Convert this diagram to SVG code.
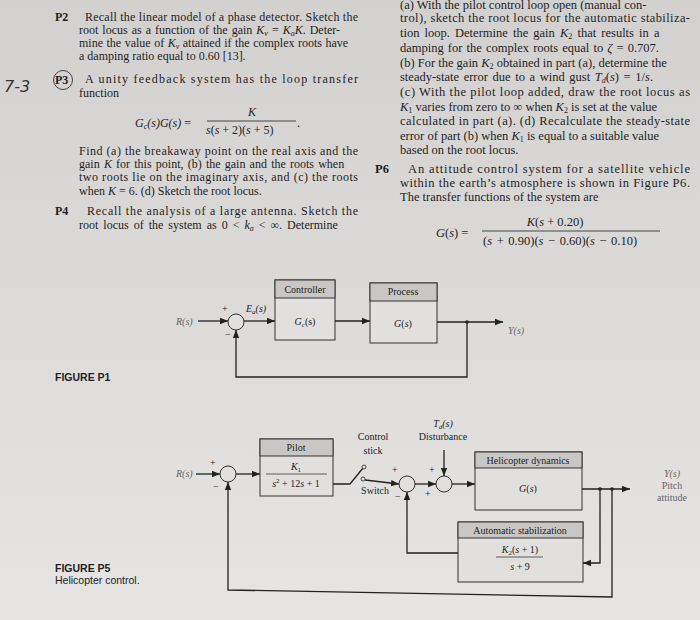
<svg xmlns="http://www.w3.org/2000/svg" width="700" height="620" viewBox="0 0 700 620">
<defs>
<linearGradient id="bg" x1="0" y1="0" x2="0" y2="1"><stop offset="0" stop-color="#d3d1d0"/><stop offset="0.5" stop-color="#dddbda"/><stop offset="1" stop-color="#e6e5e4"/></linearGradient>
<marker id="ar" viewBox="0 0 10 10" refX="10" refY="5" markerWidth="8" markerHeight="8" orient="auto-start-reverse" markerUnits="userSpaceOnUse"><path d="M0,1 L10,5 L0,9 z" fill="#222"/></marker>
</defs>
<style>
.t{font-family:"Liberation Serif",serif;font-size:12px;fill:#1e1e1e}
.r{font-size:12.5px}
.b{font-weight:bold}
.i{font-style:italic}
.s{font-family:"Liberation Serif",serif;font-size:10px;fill:#222}
.lt{fill:#666}
.fig{font-family:"Liberation Sans",sans-serif;font-size:10.5px;fill:#222}
.box{fill:#e2e0df;stroke:#333;stroke-width:1}
.hd{fill:#c9c7c5;stroke:#333;stroke-width:1}
.sum{fill:#e2e0df;stroke:#333;stroke-width:1}
.w{fill:none;stroke:#222;stroke-width:1.3}
.wa{fill:none;stroke:#222;stroke-width:1.3;marker-end:url(#ar)}
</style>
<rect width="700" height="620" fill="url(#bg)"/>

<g id="left-text">
<text class="t b" x="55" y="21">P2</text>
<text class="t" x="85" y="21" textLength="273" lengthAdjust="spacing">Recall the linear model of a phase detector. Sketch the</text>
<text class="t" x="79" y="34" word-spacing="1">root locus as a function of the gain <tspan class="i">K</tspan><tspan font-size="8" class="i" dy="2">v</tspan><tspan dy="-2"> = </tspan><tspan class="i">K</tspan><tspan font-size="8" class="i" dy="2">a</tspan><tspan class="i" dy="-2">K</tspan>. Deter-</text>
<text class="t" x="79" y="47" word-spacing="0.5">mine the value of <tspan class="i">K</tspan><tspan font-size="8" class="i" dy="2">v</tspan><tspan dy="-2"> attained if the complex roots have</tspan></text>
<text class="t" x="79" y="60">a damping ratio equal to 0.60 [13].</text>
<text x="4" y="92" font-family="DejaVu Sans, sans-serif" font-size="16" font-style="italic" fill="#333">7-3</text>
<circle cx="63" cy="80" r="9.5" fill="none" stroke="#444" stroke-width="1"/>
<text class="t b" x="55" y="84">P3</text>
<text class="t" x="85" y="83" textLength="273" lengthAdjust="spacing">A unity feedback system has the loop transfer</text>
<text class="t" x="79" y="97">function</text>
<text class="t" x="135" y="127"><tspan class="i">G</tspan><tspan font-size="8" class="i" dy="2">c</tspan><tspan dy="-2" class="i">(s)G(s)</tspan> =</text>
<text class="t i" x="252" y="116" text-anchor="middle">K</text>
<line x1="207" y1="121" x2="296" y2="121" stroke="#222" stroke-width="0.8"/>
<text class="t" x="206" y="134" font-size="11"><tspan class="i">s</tspan>(<tspan class="i">s</tspan> + 2)(<tspan class="i">s</tspan> + 5)</text>
<text class="t" x="297" y="127">.</text>
<text class="t" x="79" y="155" textLength="279" lengthAdjust="spacing">Find (a) the breakaway point on the real axis and the</text>
<text class="t" x="79" y="168" word-spacing="1.2">gain <tspan class="i">K</tspan> for this point, (b) the gain and the roots when</text>
<text class="t" x="79" y="181" textLength="279" lengthAdjust="spacing">two roots lie on the imaginary axis, and (c) the roots</text>
<text class="t" x="79" y="195">when <tspan class="i">K</tspan> = 6. (d) Sketch the root locus.</text>
<text class="t b" x="55" y="215">P4</text>
<text class="t" x="87" y="215" textLength="271" lengthAdjust="spacing">Recall the analysis of a large antenna. Sketch the</text>
<text class="t" x="79" y="229" word-spacing="2">root locus of the system as 0 &lt; <tspan class="i">k</tspan><tspan font-size="8" class="i" dy="2">a</tspan><tspan dy="-2"> &lt; ∞. Determine</tspan></text>
</g>

<g id="right-text">
<text class="t r" x="400" y="9">(a) With the pilot control loop open (manual con-</text>
<text class="t r" x="400" y="22" textLength="290" lengthAdjust="spacing">trol), sketch the root locus for the automatic stabiliza-</text>
<text class="t r" x="400" y="37" word-spacing="2">tion loop. Determine the gain <tspan class="i">K</tspan><tspan font-size="8" dy="2">2</tspan><tspan dy="-2"> that results in a</tspan></text>
<text class="t r" x="400" y="52" word-spacing="1">damping for the complex roots equal to <tspan class="i">ζ</tspan> = 0.707.</text>
<text class="t r" x="400" y="67">(b) For the gain <tspan class="i">K</tspan><tspan font-size="8" dy="2">2</tspan><tspan dy="-2"> obtained in part (a), determine the</tspan></text>
<text class="t r" x="400" y="81" word-spacing="1.5">steady-state error due to a wind gust <tspan class="i">T</tspan><tspan font-size="8" class="i" dy="2">d</tspan><tspan dy="-2">(</tspan><tspan class="i">s</tspan>) = 1/<tspan class="i">s</tspan>.</text>
<text class="t r" x="400" y="96" textLength="290" lengthAdjust="spacing">(c) With the pilot loop added, draw the root locus as</text>
<text class="t r" x="400" y="111"><tspan class="i">K</tspan><tspan font-size="8" dy="2">1</tspan><tspan dy="-2"> varies from zero to ∞ when </tspan><tspan class="i">K</tspan><tspan font-size="8" dy="2">2</tspan><tspan dy="-2"> is set at the value</tspan></text>
<text class="t r" x="400" y="125" textLength="290" lengthAdjust="spacing">calculated in part (a). (d) Recalculate the steady-state</text>
<text class="t r" x="400" y="140">error of part (b) when <tspan class="i">K</tspan><tspan font-size="8" dy="2">1</tspan><tspan dy="-2"> is equal to a suitable value</tspan></text>
<text class="t r" x="400" y="154">based on the root locus.</text>
<text class="t r b" x="375" y="173">P6</text>
<text class="t r" x="408" y="173" textLength="282" lengthAdjust="spacing">An attitude control system for a satellite vehicle</text>
<text class="t r" x="400" y="187" textLength="290" lengthAdjust="spacing">within the earth’s atmosphere is shown in Figure P6.</text>
<text class="t r" x="400" y="201">The transfer functions of the system are</text>
<text class="t r" x="436" y="237"><tspan class="i">G</tspan>(<tspan class="i">s</tspan>) =</text>
<text class="t r" x="555" y="226" text-anchor="middle"><tspan class="i">K</tspan>(<tspan class="i">s</tspan> + 0.20)</text>
<line x1="482" y1="231" x2="660" y2="231" stroke="#222" stroke-width="0.8"/>
<text class="t r" x="483" y="245" word-spacing="1.5"><tspan>(</tspan><tspan class="i">s</tspan> + 0.90)(<tspan class="i">s</tspan> − 0.60)(<tspan class="i">s</tspan> − 0.10)</text>
</g>

<g id="p1-controller">
<rect class="box" x="275" y="280" width="60" height="60"/>
<rect class="hd" x="275" y="280" width="60" height="18"/>
<text class="s" x="305" y="293" text-anchor="middle">Controller</text>
<text class="s" x="305" y="325" text-anchor="middle"><tspan class="i">G</tspan><tspan class="i" font-size="7" dy="2">c</tspan><tspan dy="-2">(s)</tspan></text>
</g>
<g id="p1-process">
<rect class="box" x="370" y="283" width="67" height="60"/>
<rect class="hd" x="370" y="283" width="67" height="18"/>
<text class="s" x="403" y="295" text-anchor="middle">Process</text>
<text class="s" x="403" y="327" text-anchor="middle"><tspan class="i">G</tspan>(<tspan class="i">s</tspan>)</text>
</g>
<g id="p1-sum"><circle class="sum" cx="236" cy="322" r="8"/></g>
<g id="p1-labels">
<text class="s i lt" x="176" y="325">R(s)</text>
<text class="s" x="222" y="312">+</text>
<text class="s" x="225" y="338">−</text>
<text class="s i" x="246" y="312">E<tspan font-size="7" dy="2">a</tspan><tspan dy="-2">(s)</tspan></text>
<text class="s i lt" x="508" y="334">Y(s)</text>
<text class="fig" x="55" y="381" font-weight="bold">FIGURE P1</text>
</g>
<g id="p1-connectors">
<path class="wa" d="M198,321 L228,321"/>
<path class="wa" d="M244,321 L275,321"/>
<path class="wa" d="M335,321 L370,321"/>
<path class="wa" d="M437,322 L503,322"/>
<path class="wa" d="M467,322 L467,377 L236,377 L236,330"/>
<circle cx="467" cy="322" r="1.8" fill="#222"/>
</g>

<g id="p5-pilot">
<rect class="box" x="260" y="439" width="73" height="57"/>
<rect class="hd" x="260" y="439" width="73" height="17"/>
<text class="s" x="296" y="451" text-anchor="middle">Pilot</text>
<text class="s i" x="296" y="470" text-anchor="middle">K<tspan font-size="7" dy="2" font-style="normal">1</tspan></text>
<line x1="266" y1="474" x2="327" y2="474" stroke="#222" stroke-width="0.7"/>
<text class="s" x="296" y="487" text-anchor="middle"><tspan class="i">s</tspan><tspan font-size="7" dy="-4">2</tspan><tspan dy="4"> + 12</tspan><tspan class="i">s</tspan> + 1</text>
</g>
<g id="p5-helicopter">
<rect class="box" x="475" y="452" width="107" height="58"/>
<rect class="hd" x="475" y="452" width="107" height="16"/>
<text class="s" x="528" y="464" text-anchor="middle">Helicopter dynamics</text>
<text class="s" x="528" y="492" text-anchor="middle"><tspan class="i">G</tspan>(<tspan class="i">s</tspan>)</text>
</g>
<g id="p5-stabilization">
<rect class="box" x="458" y="522" width="125" height="60"/>
<rect class="hd" x="458" y="522" width="125" height="16"/>
<text class="s" x="520" y="534" text-anchor="middle">Automatic stabilization</text>
<text class="s" x="520" y="553" text-anchor="middle"><tspan class="i">K</tspan><tspan font-size="7" dy="2">2</tspan><tspan dy="-2">(</tspan><tspan class="i">s</tspan> + 1)</text>
<line x1="496" y1="557" x2="543" y2="557" stroke="#222" stroke-width="0.7"/>
<text class="s" x="520" y="570" text-anchor="middle"><tspan class="i">s</tspan> + 9</text>
</g>
<g id="p5-sums">
<circle class="sum" cx="228" cy="474" r="8"/>
<circle class="sum" cx="407" cy="484" r="8"/>
<circle class="sum" cx="444" cy="484" r="8"/>
</g>
<g id="p5-labels">
<text class="s i lt" x="176" y="477">R(s)</text>
<text class="s" x="210" y="466">+</text>
<text class="s" x="213" y="490">−</text>
<text class="s" x="373" y="440" text-anchor="middle">Control</text>
<text class="s" x="373" y="454" text-anchor="middle">stick</text>
<text class="s" x="375" y="494" text-anchor="middle">Switch</text>
<text class="s" x="392" y="473">+</text>
<text class="s" x="395" y="500">−</text>
<text class="s" x="429" y="473">+</text>
<text class="s" x="425" y="497">+</text>
<text class="s i" x="443" y="427" text-anchor="middle">T<tspan font-size="7" dy="2">d</tspan><tspan dy="-2">(s)</tspan></text>
<text class="s" x="443" y="440" text-anchor="middle">Disturbance</text>
<text class="s i lt" x="672" y="477" text-anchor="middle" font-size="9">Y(s)</text>
<text class="s lt" x="672" y="489" text-anchor="middle" font-size="9">Pitch</text>
<text class="s lt" x="672" y="501" text-anchor="middle" font-size="9">attitude</text>
<text class="fig" x="55" y="572" font-weight="bold">FIGURE P5</text>
<text class="fig" x="55" y="584">Helicopter control.</text>
</g>
<g id="p5-connectors">
<path class="wa" d="M196,474 L220,474"/>
<path class="wa" d="M236,474 L260,474"/>
<path class="w" d="M333,484 L350,484 L363,468"/>
<circle cx="364" cy="467" r="2" fill="#e2e0df" stroke="#222" stroke-width="0.8"/>
<circle cx="363" cy="479" r="2" fill="#e2e0df" stroke="#222" stroke-width="0.8"/>
<path class="wa" d="M365,480 L399,484"/>
<path class="wa" d="M415,484 L436,484"/>
<path class="wa" d="M444,450 L444,476"/>
<path class="wa" d="M452,484 L475,484"/>
<path class="wa" d="M582,489 L630,489"/>
<path class="wa" d="M600,489 L600,563 L583,563"/>
<path class="wa" d="M458,553 L407,553 L407,492"/>
<path class="wa" d="M612,489 L612,597 L228,590 L228,482"/>
<circle cx="600" cy="489" r="1.8" fill="#222"/>
<circle cx="612" cy="489" r="1.8" fill="#222"/>
</g>
</svg>
